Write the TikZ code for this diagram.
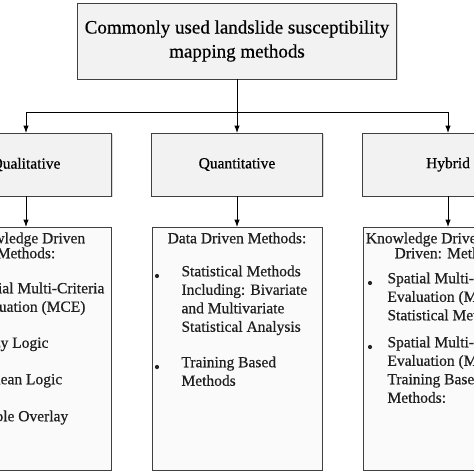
\documentclass[tikz,border=0pt]{standalone}
\usepackage{fontspec}
\setmainfont{Liberation Serif}
\newfontfamily\mediumserif{Liberation Serif}[FakeBold=0.5]
\usetikzlibrary{arrows.meta,positioning,shadows}

\begin{document}
\begin{tikzpicture}[x=1pt,y=-1pt,>=Latex,line width=1pt,
  node distance=54pt and 40pt,
  box/.style={draw=black!75,fill=black!5,align=center,inner sep=0pt,outer sep=0pt,
              drop shadow={shadow xshift=1.2pt,shadow yshift=-1.2pt,opacity=.3}},
  head/.style={box,minimum width=319pt,minimum height=76pt,
               font=\mediumserif\fontsize{19}{24}\selectfont},
  kind/.style={box,minimum width=171pt,minimum height=63pt,
               font=\mediumserif\fontsize{15.5}{18.5}\selectfont},
  list/.style={box,fill=black!2,minimum width=170pt,minimum height=243pt},
  txt/.style={inner sep=0pt,align=left,text=black!88,
              font=\mediumserif\fontsize{15.5}{18.5}\selectfont},
  boxhead/.style={txt,align=center,font=\mediumserif\fontsize{15.5}{15}\selectfont},
  dot/.style={circle,fill=black!85,inner sep=0pt,minimum size=4.2pt}]
\useasboundingbox (0,0) rectangle (474,474);
\clip (0,0) rectangle (474,474);

\node[head] (top) at (237,41) {Commonly used landslide susceptibility\\mapping methods};
\node[kind,below=54pt of top] (quan) {Quantitative};
\node[kind,left=of quan] (qual) {Qualitative};
\node[kind,right=of quan] (hyb) {Hybrid};

\node[list,below=31pt of qual] (kbox) {};
\node[list,below=31pt of quan] (dbox) {};
\node[list,below=31pt of hyb] (hbox) {};

% knowledge driven
\node[boxhead,below=5pt of kbox.north] (khead) {Knowledge Driven\\Methods:};
\node[dot] (k1) at ([shift={(5,66)}]kbox.north west) {};
\node[txt,anchor=north west] (kt1) at ([shift={(29,55)}]kbox.north west)
  {Spatial Multi-Criteria\\Evaluation (MCE)};
\node[dot] (k2) at ([shift={(5,121)}]kbox.north west) {};
\node[txt,anchor=north west] (kt2) at ([shift={(29,110)}]kbox.north west) {Fuzzy Logic};
\node[dot] (k3) at ([shift={(5,157)}]kbox.north west) {};
\node[txt,anchor=north west] (kt3) at ([shift={(29,146)}]kbox.north west) {Boolean Logic};
\node[dot] (k4) at ([shift={(5,194)}]kbox.north west) {};
\node[txt,anchor=north west] (kt4) at ([shift={(29,183)}]kbox.north west) {Simple Overlay};

% data driven
\node[boxhead,below=5pt of dbox.north] (dhead) {Data Driven Methods:};
\node[dot] (d1) at ([shift={(5,49)}]dbox.north west) {};
\node[txt,anchor=north west] (dt1) at ([shift={(29,38)}]dbox.north west)
  {Statistical Methods\\Including: Bivariate\\and Multivariate\\Statistical Analysis};
\node[dot] (d2) at ([shift={(5,140)}]dbox.north west) {};
\node[txt,anchor=north west] (dt2) at ([shift={(29,129)}]dbox.north west)
  {Training Based\\Methods};

% hybrid
\node[boxhead,below=5pt of hbox.north] (hhead) {Knowledge Driven + Data\\Driven: Methods};
\node[dot] (h1) at ([shift={(7,56)}]hbox.north west) {};
\node[txt,anchor=north west] (ht1) at ([shift={(24,45)}]hbox.north west)
  {Spatial Multi-Criteria\\Evaluation (MCE) +\\Statistical Methods};
\node[dot] (h2) at ([shift={(7,120)}]hbox.north west) {};
\node[txt,anchor=north west] (ht2) at ([shift={(24,109)}]hbox.north west)
  {Spatial Multi-Criteria\\Evaluation (MCE) +\\Training Based\\Methods:};

\coordinate (split) at ([yshift=-33pt]top.south);
\draw (top) -- (split);
\draw[->] (split) -- (quan);
\draw[->] (split) -| (qual);
\draw[->] (split) -| (hyb);
\draw[->] (qual) -- (kbox);
\draw[->] (quan) -- (dbox);
\draw[->] (hyb) -- (hbox);
\end{tikzpicture}
\end{document}
